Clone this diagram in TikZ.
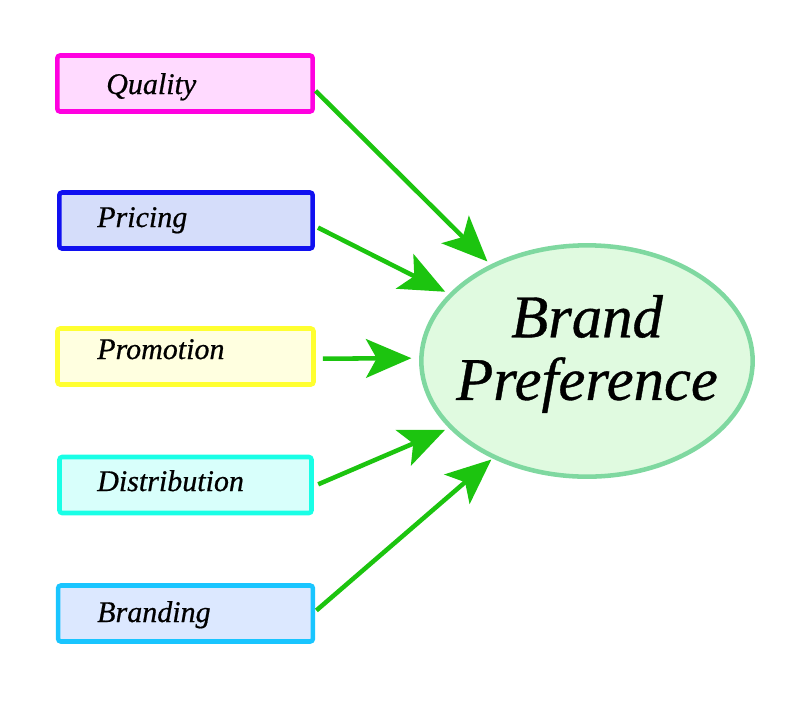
\documentclass[tikz,border=0pt]{standalone}
\usepackage{fontspec}
\setmainfont[ItalicFeatures={FakeBold=0.6}]{Liberation Serif}
\usetikzlibrary{arrows.meta,shapes.geometric}

\definecolor{arrowgreen}{HTML}{1CC40F}

\tikzset{
  itembox/.style={rectangle, draw, line width=3.4pt, rounded corners=2pt, outer sep=0pt, minimum height=42pt},
  itemlabel/.style={anchor=base west, inner sep=0pt, font=\fontsize{22.5}{26}\selectfont\itshape},
  influence/.style={draw=arrowgreen, line width=3.4pt, -{Stealth[length=34pt, width=29pt, inset=8pt, fill=arrowgreen]}}
}

\begin{document}
\begin{tikzpicture}[x=.75pt, y=-.75pt]
  \useasboundingbox (0,0) rectangle (800,701);
  % boxes on the left
  \node [itembox, minimum width=191.5pt, draw={rgb,255:red,255;green,0;blue,224}, fill={rgb,255:red,255;green,218;blue,255}] (quality) at (185,83.5) {};
  \node [itembox, minimum width=190pt, draw={rgb,255:red,16;green,16;blue,240}, fill={rgb,255:red,213;green,221;blue,250}] (pricing) at (186,220.5) {};
  \node [itembox, minimum width=192pt, draw={rgb,255:red,255;green,255;blue,48}, fill={rgb,255:red,255;green,255;blue,224}] (promotion) at (185.5,356.5) {};
  \node [itembox, minimum width=189pt, draw={rgb,255:red,25;green,255;blue,230}, fill={rgb,255:red,216;green,255;blue,251}] (distribution) at (185.5,485) {};
  \node [itembox, minimum width=191pt, draw={rgb,255:red,25;green,197;blue,255}, fill={rgb,255:red,220;green,232;blue,255}] (branding) at (185.5,613.5) {};
  \node [itemlabel] (qualitytext) at (106,94) {Quality};
  \node [itemlabel] (pricingtext) at (97,227) {Pricing};
  \node [itemlabel] (promotiontext) at (97,359) {Promotion};
  \node [itemlabel] (distributiontext) at (97,491) {Distribution};
  \node [itemlabel] (brandingtext) at (97,622) {Branding};
  % the big ellipse
  \node [ellipse, draw={rgb,255:red,127;green,216;blue,160}, line width=3.4pt, fill={rgb,255:red,224;green,250;blue,224}, minimum width=248.5pt, minimum height=173.5pt, inner sep=0pt, outer sep=0pt] (brand) at (587,361) {};
  \node [inner sep=0pt, align=center, font=\fontsize{45.5}{47}\selectfont\itshape] (brandtext) at (587,354) {Brand\\Preference};
  % arrows
  \draw [influence, shorten <=3pt, shorten >=5pt] (quality.-2) -- (brand.135);
  \draw [influence, shorten <=4.5pt, shorten >=5pt] (pricing.-2.5) -- (brand.154);
  \draw [influence, shorten <=7pt, shorten >=7.5pt] (promotion.-1) -- (brand.179);
  \draw [influence, shorten <=5.5pt, shorten >=5pt] (distribution.-1.5) -- (brand.206);
  \draw [influence, shorten <=3.5pt, shorten >=3pt] (branding.east) -- (brand.226);
\end{tikzpicture}
\end{document}
